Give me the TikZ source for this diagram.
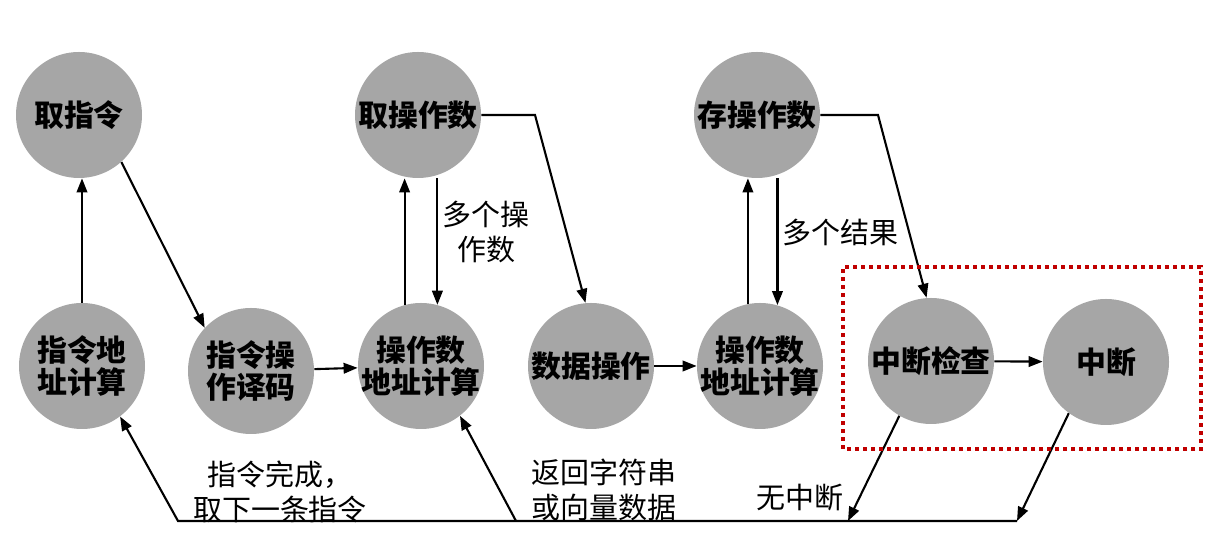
\documentclass[tikz,border=0pt]{standalone}
\usepackage{fontspec}
\setmainfont{Noto Sans CJK SC}
\usetikzlibrary{arrows.meta}
\definecolor{boxred}{HTML}{C00000}

\begin{document}
\begin{tikzpicture}[
        stage/.style={circle, fill=black!35, minimum size=2.52cm, inner sep=-4pt, align=center, font=\fontsize{17}{18}\selectfont\bfseries},
        arrow/.style={-{Triangle[length=8pt,width=6pt]}, line width=1.2pt},
        note/.style={align=center, font=\fontsize{16.5}{20}\selectfont},
        focus/.style={draw=boxred, line width=0.08cm, dash pattern=on 0.08cm off 0.08cm}
    ]
    \useasboundingbox (0,0) rectangle (24.56,10.92);

    % top row
    \foreach \n/\x/\txt in {fetch/1.58/取指令, opfetch/8.36/取操作数, store/15.14/存操作数}
        \node[stage] (\n) at (\x,8.62) {\txt};

    % bottom row
    \foreach \n/\x/\y/\txt in {iaddr/1.64/3.60/{指令地\\址计算}, decode/5.02/3.50/{指令操\\作译码},
            oaddr/8.42/3.60/{操作数\\地址计算}, dataop/11.82/3.60/数据操作,
            raddr/15.20/3.60/{操作数\\地址计算}, check/18.62/3.70/中断检查, intr/22.12/3.68/中断}
        \node[stage] (\n) at (\x,\y) {\txt};

    % bends of the connectors
    \coordinate (opbend) at (10.70,8.62);
    \coordinate (stbend) at (17.56,8.62);
    \coordinate (busL) at (3.56,0.50);
    \coordinate (busM) at (10.32,0.50);
    \coordinate (busN) at (16.96,0.50);
    \coordinate (busR) at (20.34,0.50);

    % instruction cycle
    \draw[arrow] (iaddr.north) -- (iaddr.north |- fetch.south);
    \draw[arrow] (fetch.-48) -- (decode.137);
    \draw[arrow] (decode) -- (oaddr);
    \draw[arrow] (oaddr.105) -- (oaddr.105 |- opfetch.south);
    \draw[arrow] (opfetch.south -| oaddr.75) -- (oaddr.75);
    \draw[arrow] (opfetch.east) -- (opbend) -- (dataop.95);
    \draw[arrow] (dataop) -- (raddr);
    \draw[arrow] (raddr.101) -- (raddr.101 |- store.south);
    \draw[arrow] (store.south -| raddr.74) -- (raddr.74);
    \draw[arrow] (store.east) -- (stbend) -- (check.94);
    \draw[arrow] (check) -- (intr);

    % way back
    \draw[arrow] (check.240) -- (busN);
    \draw[arrow] (intr.234) -- (busR);
    \draw[arrow] (busR) -- (busL) -- (iaddr.-53);
    \draw[arrow] (busM) -- (oaddr.-52);

    % labels
    \node[note] (multop) at (9.72,6.28) {多个操\\作数};
    \node[note] (multres) at (16.80,6.28) {多个结果};
    \node[note] (done) at (5.60,1.08) {指令完成，\\取下一条指令};
    \node[note] (ret) at (12.08,1.12) {返回字符串\\或向量数据};
    \node[note] (nointr) at (16.00,0.96) {无中断};

    % highlight
    \draw[focus] (16.86,1.94) rectangle (24.02,5.58);
\end{tikzpicture}
\end{document}
